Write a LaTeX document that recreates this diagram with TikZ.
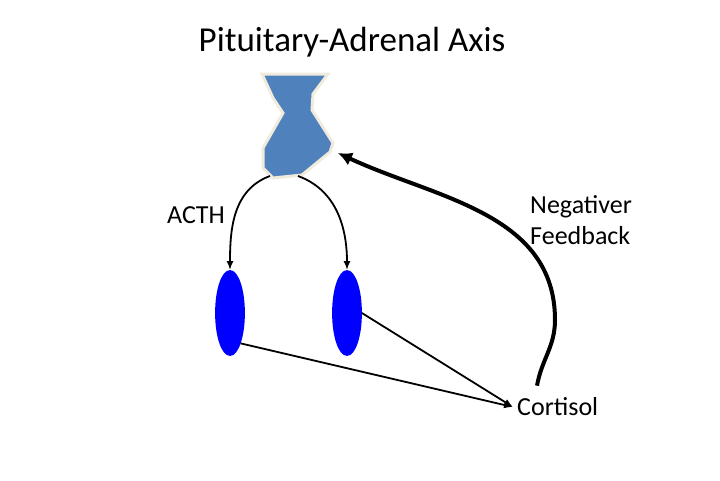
\documentclass[tikz,border=0pt]{standalone}
\usepackage{fontspec}
\setmainfont{Carlito}
\usetikzlibrary{arrows,arrows.meta,shapes,positioning}
\begin{document}
\begin{tikzpicture}[->,>={Latex[length=9pt,width=7pt]},x=1pt,y=-1pt,line width=1.8pt]
\tikzstyle{gland}=[ellipse,draw=blue,fill=blue,minimum width=28pt,minimum height=84pt,inner sep=0pt]
\tikzstyle{lbl}=[font=\fontsize{26}{31}\selectfont,align=left]
\useasboundingbox (0,0) rectangle (720,480);

\node[font=\fontsize{35}{40}\selectfont] (title) at (352,42) {Pituitary-Adrenal Axis};

% pituitary
\fill[draw={rgb,255:red,240;green,235;blue,220},line width=3pt,fill={rgb,255:red,79;green,129;blue,189}]
  (262,74) -- (328,74) -- (313,94) -- (312,110) -- (333,143) -- (330,152)
  -- (302,175) -- (273,178) -- (263,168) -- (263,148) -- (283,113) -- (273,98) -- cycle;
\coordinate (pit_l) at (270,176);
\coordinate (pit_r) at (298,176);
\coordinate (pit_in) at (338,153);

\node[gland] (adrenal1) at (230,313) {};
\node[gland] (adrenal2) at (347,313) {};

\node[lbl,anchor=west] (cortisol) at (513,407) {Cortisol};
\node[lbl] (acth) at (196,215) {ACTH};
\node[lbl,anchor=west] (feedback) at (526,220) {Negativer\\Feedback};

\draw[->] (pit_l) to[out=200,in=90] (adrenal1.north);
\draw[->] (pit_r) to[out=-20,in=90] (adrenal2.north);
\draw[->] (adrenal1.south east) -- (cortisol.west);
\draw[->] (adrenal2.east) -- (cortisol.west);
\draw[->,line width=4pt,>={Latex[length=14pt,width=14pt]}] (cortisol.north west) ++(24,-8) coordinate (cort_top)
  to[out=80,in=-90] (555,320) to[out=90,in=-25] (pit_in);
\end{tikzpicture}
\end{document}
